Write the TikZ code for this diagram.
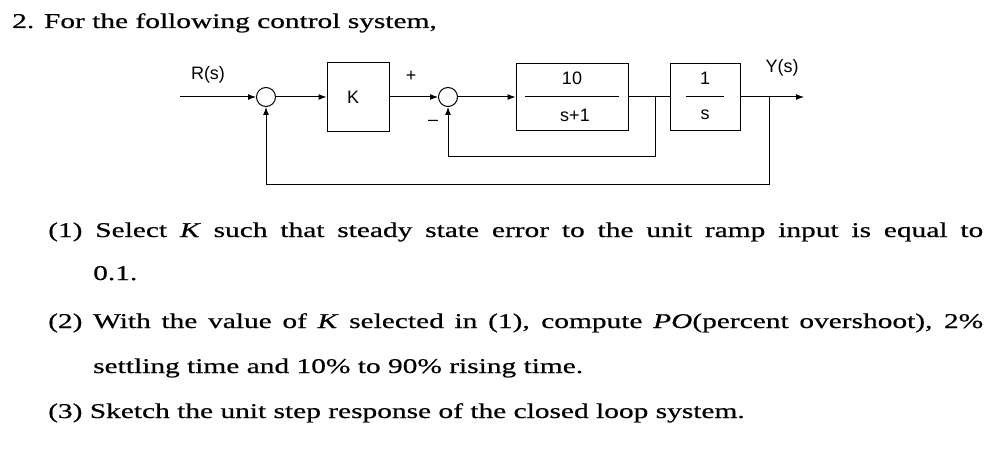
\documentclass[tikz,border=0pt]{standalone}
\usepackage{fontspec}
\setmainfont{Liberation Serif}[FakeStretch=1.4,FakeBold=0.6]
\newfontfamily\diag{Liberation Sans}
\usetikzlibrary{arrows.meta}
\begin{document}
\begin{tikzpicture}[x=1pt,y=-1pt,
  blk/.style={draw,line width=1pt,inner sep=0pt},
  sumc/.style={draw,circle,minimum size=19pt,inner sep=0pt,line width=1pt},
  lbl/.style={font=\diag\fontsize{18}{20}\selectfont,inner sep=0pt},
  txt/.style={anchor=base west,inner sep=0pt,font=\fontsize{21}{24}\selectfont},
  sig/.style={line width=1pt,-{Latex[length=8pt,width=6pt]}},
  wire/.style={line width=1pt}]
\useasboundingbox (0,0) rectangle (1008,465);
\node[txt] (title) at (12,28) {2. For the following control system,};
% diagram
\coordinate (in) at (180,97);
\node[sumc] (s1) at (266,97) {};
\node[blk,minimum width=62pt,minimum height=69pt] (K) at (358,97) {};
\node[lbl] (Kt) at (353,97) {K};
\node[sumc] (s2) at (448,97) {};
\node[blk,minimum width=112pt,minimum height=67pt] (G1) at (572,97) {};
\node[blk,minimum width=70pt,minimum height=67pt] (G2) at (705,97) {};
\draw[wire] (525,97) -- (619,97);
\draw[wire] (686,97) -- (724,97);
\node[lbl] (n1) at (572,78) {10};
\node[lbl] (d1) at (575,115) {s+1};
\node[lbl] (n2) at (705,78) {1};
\node[lbl] (d2) at (705,115) {s};
\coordinate (t1) at (655,97);
\coordinate (t2) at (769,97);
\coordinate (out) at (804,97);
\node[lbl] (R) at (208,75) {R(s)};
\node[lbl] (Y) at (782,68) {Y(s)};
\node[lbl] (plus) at (411,76) {+};
\node[lbl] (minus) at (433,123) {\textendash};
\draw[sig] (in) -- (s1);
\draw[sig] (s1) -- (K);
\draw[sig] (K) -- (s2);
\draw[sig] (s2) -- (G1);
\draw[wire] (G1) -- (G2);
\draw[sig] (G2) -- (out);
\draw[sig] (t1) -- (655,157) -| (s2);
\draw[sig] (t2) -- (769,184) -| (s1);
% questions
\node[txt] (q1a) at (48,237) {\makebox[935pt][s]{(1) Select \textit{K} such that steady state error to the unit ramp input is equal to}};
\node[txt] (q1b) at (93,280) {0.1.};
\node[txt] (q2a) at (48,328) {\makebox[935pt][s]{(2) With the value of \textit{K} selected in (1), compute \textit{PO}(percent overshoot), 2\%}};
\node[txt] (q2b) at (93,373) {settling time and 10\% to 90\% rising time.};
\node[txt] (q3) at (48,418) {(3) Sketch the unit step response of the closed loop system.};
\end{tikzpicture}
\end{document}
